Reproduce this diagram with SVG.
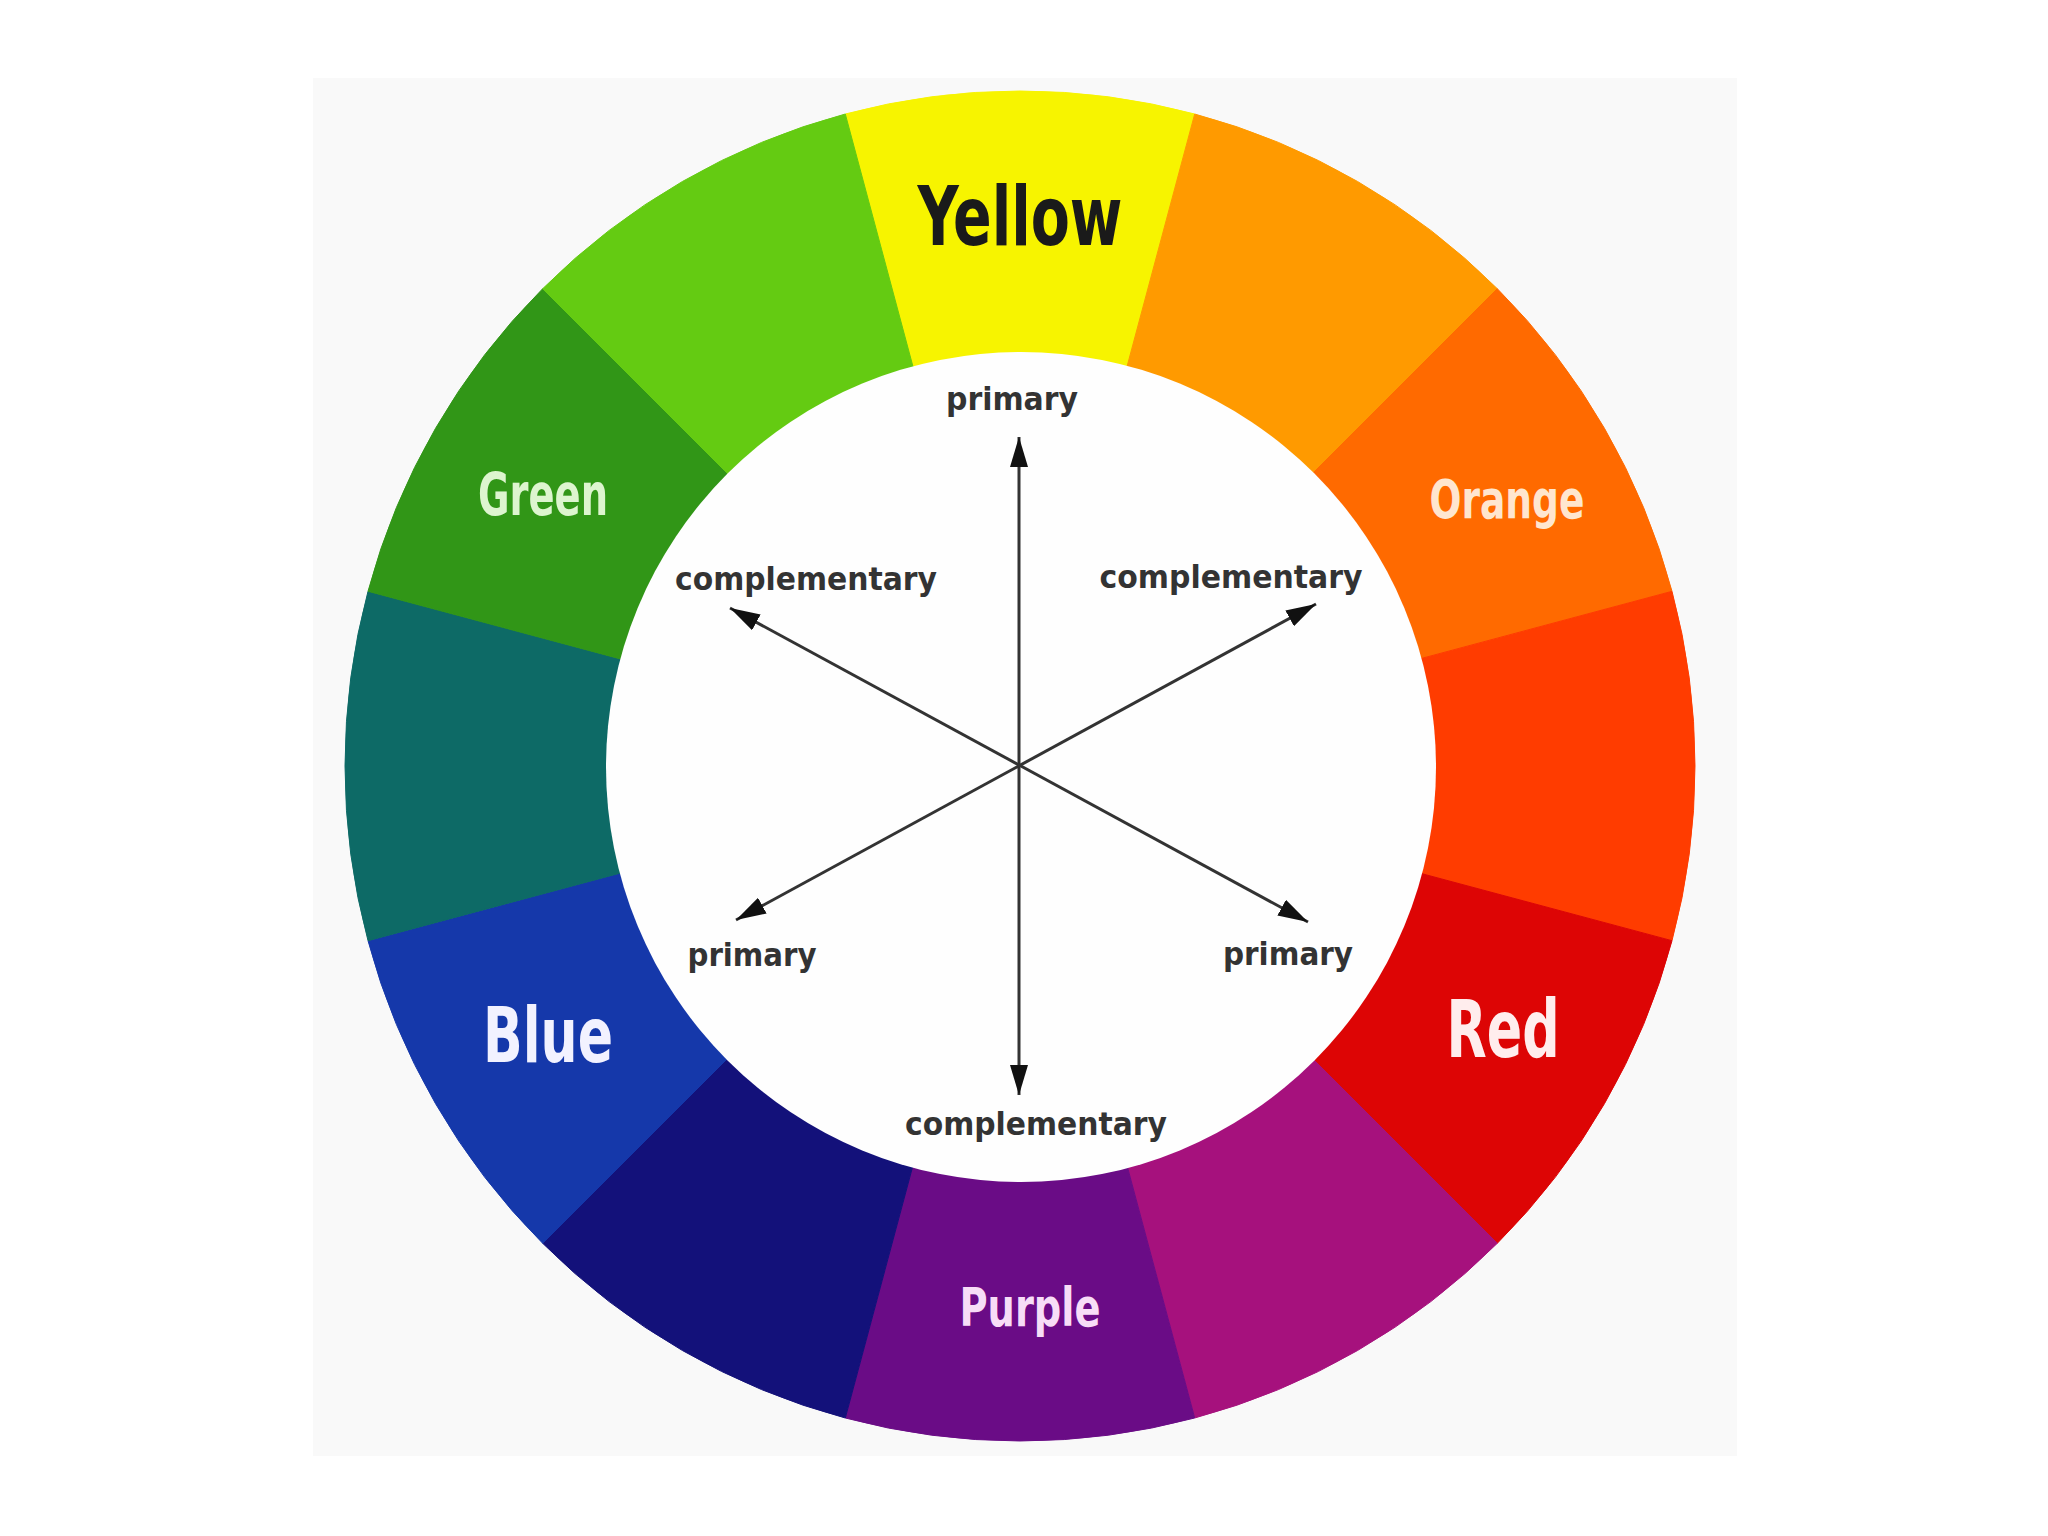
<svg xmlns="http://www.w3.org/2000/svg" width="2048" height="1536" viewBox="0 0 2048 1536">
  <defs>
    <style>
      .big{font-family:"DejaVu Sans Condensed","DejaVu Sans","Liberation Sans",sans-serif;font-weight:bold;font-stretch:condensed;text-anchor:middle}
      .small{font-family:"DejaVu Sans Condensed","DejaVu Sans","Liberation Sans",sans-serif;font-weight:bold;font-stretch:condensed;text-anchor:middle;font-size:32px;fill:#333333}
      .arrow{stroke:#333333;stroke-width:3;fill:none;marker-start:url(#head);marker-end:url(#head)}
    </style>
    <marker id="head" markerUnits="userSpaceOnUse" markerWidth="30" markerHeight="18" refX="30" refY="9" orient="auto-start-reverse" viewBox="0 0 30 18">
      <path d="M0,0 L30,9 L0,18 Z" fill="#111111"/>
    </marker>
  </defs>

  <rect x="0" y="0" width="2048" height="1536" fill="#FFFFFF"/>
  <rect x="313" y="78" width="1424" height="1378" fill="#F9F9F9"/>

  <g id="wheel">
    <g id="seg-yellow"><path d="M1020,766 L845.3,114 A675,675 0 0 1 1194.7,114 Z" fill="#F7F400" stroke="#F7F400"/></g>
    <g id="seg-yellow-orange"><path d="M1020,766 L1194.7,114 A675,675 0 0 1 1497.3,288.7 Z" fill="#FF9A00" stroke="#FF9A00"/></g>
    <g id="seg-orange"><path d="M1020,766 L1497.3,288.7 A675,675 0 0 1 1672,591.3 Z" fill="#FF6A00" stroke="#FF6A00"/></g>
    <g id="seg-red-orange"><path d="M1020,766 L1672,591.3 A675,675 0 0 1 1672,940.7 Z" fill="#FF3C00" stroke="#FF3C00"/></g>
    <g id="seg-red"><path d="M1020,766 L1672,940.7 A675,675 0 0 1 1497.3,1243.3 Z" fill="#DD0505" stroke="#DD0505"/></g>
    <g id="seg-red-violet"><path d="M1020,766 L1497.3,1243.3 A675,675 0 0 1 1194.7,1418 Z" fill="#A6117D" stroke="#A6117D"/></g>
    <g id="seg-purple"><path d="M1020,766 L1194.7,1418 A675,675 0 0 1 845.3,1418 Z" fill="#6A0C86" stroke="#6A0C86"/></g>
    <g id="seg-blue-violet"><path d="M1020,766 L845.3,1418 A675,675 0 0 1 542.7,1243.3 Z" fill="#13117A" stroke="#13117A"/></g>
    <g id="seg-blue"><path d="M1020,766 L542.7,1243.3 A675,675 0 0 1 368,940.7 Z" fill="#1538AA" stroke="#1538AA"/></g>
    <g id="seg-blue-green"><path d="M1020,766 L368,940.7 A675,675 0 0 1 368,591.3 Z" fill="#0D6A66" stroke="#0D6A66"/></g>
    <g id="seg-green"><path d="M1020,766 L368,591.3 A675,675 0 0 1 542.7,288.7 Z" fill="#319617" stroke="#319617"/></g>
    <g id="seg-yellow-green"><path d="M1020,766 L542.7,288.7 A675,675 0 0 1 845.3,114 Z" fill="#64CB12" stroke="#64CB12"/></g>
    <circle id="center" cx="1021" cy="767" r="415" fill="#FEFEFE"/>
  </g>

  <g id="connectors">
    <line class="arrow" x1="1019" y1="437" x2="1019" y2="1095"/>
    <line class="arrow" x1="730" y1="608" x2="1308" y2="922"/>
    <line class="arrow" x1="736" y1="920" x2="1316" y2="604"/>
  </g>

  <g id="color-labels">
    <text id="label-yellow" class="big" x="1020" y="245" font-size="82" fill="#1A1A1A" textLength="205" lengthAdjust="spacingAndGlyphs">Yellow</text>
    <text id="label-green" class="big" x="543" y="515" font-size="58" fill="#DDF5CF" textLength="130" lengthAdjust="spacingAndGlyphs">Green</text>
    <text id="label-orange" class="big" x="1507" y="518" font-size="54" fill="#FFE6CF" textLength="155" lengthAdjust="spacingAndGlyphs">Orange</text>
    <text id="label-blue" class="big" x="548" y="1062" font-size="76" fill="#F2F2FF" textLength="130" lengthAdjust="spacingAndGlyphs">Blue</text>
    <text id="label-red" class="big" x="1503" y="1057" font-size="80" fill="#FFEDED" textLength="113" lengthAdjust="spacingAndGlyphs">Red</text>
    <text id="label-purple" class="big" x="1030" y="1326" font-size="54" fill="#F7DDF7" textLength="141" lengthAdjust="spacingAndGlyphs">Purple</text>
  </g>

  <g id="relation-labels">
    <text class="small" x="1012" y="410" textLength="132" lengthAdjust="spacingAndGlyphs">primary</text>
    <text class="small" x="806" y="590" textLength="262" lengthAdjust="spacingAndGlyphs">complementary</text>
    <text class="small" x="1231" y="588" textLength="263" lengthAdjust="spacingAndGlyphs">complementary</text>
    <text class="small" x="752" y="966" textLength="129" lengthAdjust="spacingAndGlyphs">primary</text>
    <text class="small" x="1288" y="965" textLength="130" lengthAdjust="spacingAndGlyphs">primary</text>
    <text class="small" x="1036" y="1135" textLength="262" lengthAdjust="spacingAndGlyphs">complementary</text>
  </g>
</svg>
